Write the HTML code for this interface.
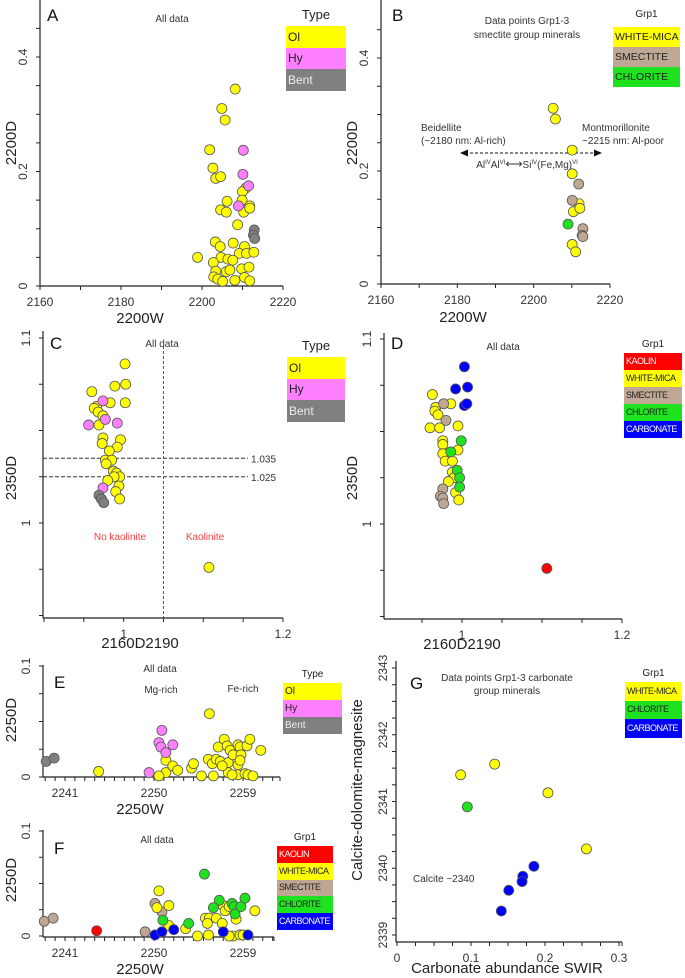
<!DOCTYPE html>
<html><head><meta charset="utf-8">
<style>
html,body{margin:0;padding:0;background:#fff;}
#wrap{position:relative;width:685px;height:978px;overflow:hidden;font-family:"Liberation Sans",sans-serif;}
svg{position:absolute;left:0;top:0;}
.lg{position:absolute;font-family:"Liberation Sans",sans-serif;font-size:11px;line-height:1;}
.lb{position:absolute;display:flex;align-items:center;padding-left:2px;box-sizing:border-box;font-size:11px;white-space:nowrap;overflow:hidden;}
</style></head>
<body>
<div id="wrap">
<svg id="fig" width="685" height="978" viewBox="0 0 685 978"></svg>
</div>
<script>
// ===== Panel A data (2200W vs 2200D, by Type) =====
const aOlX=[2208.2,2204.9,2205.7,2201.9,2202.7,2203.4,2204.6,2210.8,2210,2206.2,2209.9,2204.6,2206,2210.3,2211.8,2211.8,2208.8,2203.3,2204.5,2207.7,2210.5,2209.2,2211,2212.8,2198.9,2204.7,2206.4,2207.6,2202.8,2203.4,2206,2206.9,2209.8,2211.6,2202.9,2203.9,2205.1,2208.1,2210.5,2211.8];
const aOlY=[0.344,0.310,0.290,0.238,0.206,0.188,0.191,0.171,0.165,0.148,0.150,0.133,0.129,0.129,0.140,0.136,0.107,0.077,0.069,0.075,0.069,0.057,0.057,0.059,0.050,0.050,0.047,0.045,0.041,0.026,0.025,0.028,0.030,0.033,0.016,0.012,0.008,0.010,0.015,0.009];
const aHyX=[2210.2,2210.1,2211.5,2209];
const aHyY=[0.237,0.195,0.175,0.140];
const aBentX=[2212.9,2212.7,2213];
const aBentY=[0.098,0.089,0.083];
// ===== Panel B data =====
const bWmX=[2205.1,2205.7,2210.1,2210.1,2210.4,2211.9,2212.1,2210.1,2211];
const bWmY=[0.311,0.292,0.237,0.195,0.128,0.142,0.134,0.070,0.057];
const bSmX=[2211.8,2210.1,2212.9,2212.7,2212.9];
const bSmY=[0.177,0.148,0.098,0.086,0.084];
const bChX=[2209];
const bChY=[0.106];
// ===== Panel C data =====
const cOlX=[1.0017,1.0025,0.989,0.960,0.983,1.002,0.966,0.963,0.968,0.974,0.969,0.974,0.996,0.973,0.992,0.982,0.977,0.985,0.978,0.987,0.991,0.995,0.988,0.980,0.994,0.990,0.995,1.107];
const cOlY=[1.086,1.075,1.074,1.071,1.065,1.065,1.063,1.062,1.060,1.058,1.053,1.046,1.045,1.043,1.041,1.039,1.034,1.034,1.032,1.028,1.027,1.025,1.025,1.023,1.020,1.017,1.013,0.976];
const cHyX=[0.974,0.977,0.956,0.992,0.974];
const cHyY=[1.066,1.056,1.053,1.054,1.019];
const cBentX=[0.969,0.972,0.975];
const cBentY=[1.015,1.013,1.011];
const cThresh=[1.035,1.025];
const cKaolinCut=[1.05];
// ===== Panel D data =====
const dCbX=[1.003,0.992,1.007,1.003,1.006];
const dCbY=[1.085,1.073,1.074,1.064,1.065];
const dWmX=[0.963,0.986,0.967,0.966,0.970,0.960,0.972,0.995,0.976,0.976,0.976,0.995,0.979,0.988,0.988,0.990,0.983,0.992,0.996];
const dWmY=[1.070,1.065,1.063,1.061,1.059,1.052,1.052,1.053,1.045,1.043,1.038,1.040,1.034,1.034,1.028,1.025,1.023,1.017,1.013];
const dSmX=[0.977,0.980,0.976,0.973,0.976,0.977];
const dSmY=[1.065,1.056,1.019,1.015,1.014,1.011];
const dChX=[0.999,0.986,0.994,0.997,0.997];
const dChY=[1.045,1.039,1.029,1.025,1.020];
const dKaX=[1.106];
const dKaY=[0.976];
// ===== Panel E data =====
const eBentX=[2239.1,2239.9];
const eBentY=[0.014,0.017];
const eOlX=[2244.4,2255.6,2255.5,2251.2,2251.2,2250.5,2251.9,2252.4,2253.8,2254,2254.8,2255.9,2256,2256.5,2256.3,2256.7,2257.1,2257.4,2257.7,2257.5,2257.5,2256.9,2258,2258.5,2258.7,2258.8,2259.4,2259.7,2258.5,2258.7,2258.5,2259.2,2259.5,2260,2260.8,2257.9];
const eOlY=[0.005,0.057,0.016,0.015,0.004,0.001,0.010,0.006,0.008,0.012,0.001,0.012,0.001,0.027,0.016,0.014,0.034,0.028,0.024,0.013,0.004,0.010,0.020,0.029,0.027,0.020,0.028,0.034,0.011,0.015,0.002,0.003,0.002,0.001,0.024,0.002];
const eHyX=[2250.8,2250.5,2250.7,2251.2,2251.9,2249.5];
const eHyY=[0.042,0.031,0.027,0.022,0.029,0.004];
// ===== Panel F data =====
const fSmX=[2238.9,2239.8,2249.1,2250.1,2250.8];
const fSmY=[0.014,0.017,0.004,0.031,0.023];
const fKaX=[2244.2];
const fKaY=[0.005];
const fWmX=[2250.5,2250.3,2251.5,2251.5,2253.2,2254.4,2255.2,2255.6,2255.5,2255.4,2256.3,2256.9,2257,2257.2,2257.6,2258.3,2258,2258.7,2259,2260.2,2257.6];
const fWmY=[0.043,0.027,0.029,0.010,0.007,0,0.017,0.017,0.001,0.012,0.017,0.012,0.029,0.024,0.028,0.016,0,0.001,0.001,0.024,0];
const fChX=[2255.1,2250.9,2253.5,2256.6,2256,2257.9,2258.1,2258.2,2258.8,2259.2];
const fChY=[0.059,0.015,0.012,0.034,0.027,0.031,0.028,0.021,0.028,0.036];
const fCbX=[2250.1,2250.8,2252,2257,2259.5];
const fCbY=[0.001,0.004,0.006,0.004,0.001];
// ===== Panel G data =====
const gWmX=[0.086,0.132,0.204,0.256];
const gWmY=[2341.40,2341.56,2341.13,2340.29];
const gChX=[0.095];
const gChY=[2340.92];
const gCbX=[0.185,0.170,0.169,0.151,0.141];
const gCbY=[2340.03,2339.88,2339.80,2339.67,2339.36];
// ===== Tick labels =====
const tickA_X=[2160,2180,2200,2220];
const tickA_Y=[0,0.2,0.4];
const tickC_X=[1,1.2];
const tickC_Y=[1,1.1];
const tickE_X=[2241,2250,2259];
const tickE_Y=[0,0.1];
const tickG_X=[0,0.1,0.2,0.3];
const tickG_Y=[2339,2340,2341,2342,2343];

const C={ol:'#ffff00',hy:'#ff80ff',bent:'#808080',wm:'#ffff00',sm:'#bfa793',ch:'#1ee21e',cb:'#0000ff',ka:'#ff0000'};
const NS='http://www.w3.org/2000/svg';
const svg=document.getElementById('fig');
function mk(tag,attrs,parent){const e=document.createElementNS(NS,tag);for(const k in attrs)e.setAttribute(k,attrs[k]);(parent||svg).appendChild(e);return e;}
function lin(d0,d1,p0,p1){return v=>p0+(v-d0)/(d1-d0)*(p1-p0);}
function fmt(v){return String(+v.toFixed(3));}

function axes(id,P){
  const g=mk('g',{});
  
  
  mk('line',{x1:P.L,y1:P.B,x2:P.R,y2:P.B,stroke:'#222','stroke-width':1.2},g);
  mk('line',{x1:P.L,y1:P.T,x2:P.L,y2:P.B,stroke:'#222','stroke-width':1.2},g);
  for(let v=P.xt[0];v<=P.xt[1]+1e-9;v+=P.xt[2]){const x=P.sx(v);if(x<P.L-0.5||x>P.R+0.5)continue;mk('line',{x1:x,y1:P.B,x2:x,y2:P.B+4,stroke:'#222','stroke-width':1},g);}
  if(P.R>P.sx(P.xt[1])+1) mk('line',{x1:P.R,y1:P.B,x2:P.R,y2:P.B+4,stroke:'#222'},g);
  for(let v=P.yt[0];v<=P.yt[1]+1e-9;v+=P.yt[2]){const y=P.sy(v);if(y<P.T-0.5||y>P.B+0.5)continue;mk('line',{x1:P.L-4,y1:y,x2:P.L,y2:y,stroke:'#222','stroke-width':1},g);}
  P.xl.forEach(v=>{const t=mk('text',{x:P.sx(v),y:P.B+20,'text-anchor':'middle','font-size':12,fill:'#333'},g);t.textContent=fmt(v);
    
    });
  P.yl.forEach(v=>{const x=P.L-(P.yoff||13),y=P.sy(v);const t=mk('text',{x:x,y:y,'text-anchor':'middle','font-size':12,fill:'#333',transform:`rotate(-90 ${x} ${y})`},g);t.textContent=fmt(v);
    
    });
  const xt=mk('text',{x:P.xtx,y:P.B+P.xty,'text-anchor':'middle','font-size':15,fill:'#222'},g);xt.textContent=P.xtitle;
  
  
  const yx=P.ytx,yy=P.yty;
  const yt=mk('text',{x:yx,y:yy,'text-anchor':'middle','font-size':15,fill:'#222',transform:`rotate(-90 ${yx} ${yy})`},g);yt.textContent=P.ytitle;
  
  
  const lt=mk('text',{x:P.lx,y:P.ly,'font-size':17,fill:'#111'},g);lt.textContent=P.letter;
  
  
}
function series(name,xs,ys,color,P){
  const g=mk('g',{});
  
  
  xs.forEach((v,i)=>{const c=mk('circle',{cx:P.sx(v),cy:P.sy(ys[i]),r:5,fill:color,stroke:'#555','stroke-width':0.8},g);
    
    });
}
function txt(s,x,y,size,color,anchor,name){const t=mk('text',{x:x,y:y,'font-size':size,fill:color||'#333','text-anchor':anchor||'middle'});t.textContent=s;
  
  return t;}
function legend(name,title,x,y,w,items,titleY,h,fs,ls){
  const wrap=document.getElementById('wrap');
  const d=document.createElement('div');d.className='lg';
  
  
  const t=document.createElement('div');t.style.cssText=`position:absolute;left:${x}px;top:${titleY}px;width:${w}px;text-align:center;font-size:${title==='Type'&&h>19?13:10}px;color:#222;`;t.textContent=title;
  
  
  d.appendChild(t);
  items.forEach((it,i)=>{const b=document.createElement('div');b.className='lb';
    b.style.cssText+=`left:${x}px;top:${y+i*h}px;width:${w}px;height:${h}px;background:${it[1]};color:${it[2]};font-size:${fs}px;letter-spacing:${ls}px;`;
    b.textContent=it[0];
    
    
    d.appendChild(b);});
  wrap.appendChild(d);
}

// ---- Panel A ----
const PA={L:40,R:283,T:0,B:286,sx:lin(2160,2220,40,283),sy:lin(0,0.4,286,57),xt:[2160,2220,10],yt:[0,0.45,0.05],xl:tickA_X,yl:tickA_Y,xtitle:'2200W',xtx:140,xty:37,ytitle:'2200D',ytx:16,yty:143,letter:'A',lx:47,ly:21};
axes('panel-a',PA);
txt('All data',172,22,10,'#333','middle','panel-a-subtitle');
series('panel-a-ol',aOlX,aOlY,C.ol,PA);
series('panel-a-hy',aHyX,aHyY,C.hy,PA);
series('panel-a-bent',aBentX,aBentY,C.bent,PA);
legend('panel-a-legend','Type',286,26,60,[['Ol',C.ol,'#222'],['Hy',C.hy,'#222'],['Bent',C.bent,'#eee']],8,21.5,12,0);

// ---- Panel B ----
const PB={L:381,R:610,T:0,B:284,sx:lin(2160,2220,381,610),sy:lin(0,0.4,284,58),xt:[2160,2220,10],yt:[0,0.45,0.05],xl:tickA_X,yl:tickA_Y,xtitle:'2200W',xtx:463,xty:38,ytitle:'2200D',ytx:357,yty:143,letter:'B',lx:392,ly:21};
axes('panel-b',PB);
txt('Data points  Grp1-3',527,24,10,'#333','middle','panel-b-subtitle-1');
txt('smectite  group  minerals',527,38,10,'#333','middle','panel-b-subtitle-2');
txt('Beidellite',421,131,10,'#333','start','beidellite-label');
txt('(~2180  nm:  Al-rich)',421,144,10,'#333','start','beidellite-note');
txt('Montmorillonite',582,131,10,'#333','start','montmorillonite-label');
txt('~2215  nm:  Al-poor',582,144,10,'#333','start','montmorillonite-note');
(function(){const g=mk('g',{});
 
 
 mk('line',{x1:465,y1:153,x2:597,y2:153,stroke:'#111','stroke-width':1,'stroke-dasharray':'3,2'},g);
 mk('path',{d:'M460 153 L468 149.5 L468 156.5 Z',fill:'#111'},g);
 mk('path',{d:'M602 153 L594 149.5 L594 156.5 Z',fill:'#111'},g);})();
(function(){const t=mk('text',{x:527,y:168,'font-size':10,fill:'#333','text-anchor':'middle'});
 
 
 t.innerHTML='Al<tspan font-size="6" dy="-4">IV</tspan><tspan dy="4">Al</tspan><tspan font-size="6" dy="-4">VI</tspan><tspan dy="4" font-size="12">⟷</tspan><tspan>Si</tspan><tspan font-size="6" dy="-4">IV</tspan><tspan dy="4">(Fe,Mg)</tspan><tspan font-size="6" dy="-4">VI</tspan>';})();
series('panel-b-white-mica',bWmX,bWmY,C.wm,PB);
series('panel-b-smectite',bSmX,bSmY,C.sm,PB);
series('panel-b-chlorite',bChX,bChY,C.ch,PB);
legend('panel-b-legend','Grp1',613,27,67,[['WHITE-MICA',C.wm,'#222'],['SMECTITE',C.sm,'#222'],['CHLORITE',C.ch,'#222']],10,20,10.5,0);

// ---- Panel C ----
const PC={L:43,R:283,T:331,B:618,sx:lin(0.9,1.2,44,283),sy:lin(1,1.1,523,338),xt:[0.9,1.2,0.05],yt:[0.95,1.1,0.025],xl:tickC_X,yl:tickC_Y,xtitle:'2160D2190',xtx:140,xty:30,ytitle:'2350D',ytx:16,yty:478,letter:'C',lx:50,ly:349};
axes('panel-c',PC);
txt('All data',162,347,10,'#333','middle','panel-c-subtitle');
cThresh.forEach(v=>{const l=mk('line',{x1:PC.L,y1:PC.sy(v),x2:248,y2:PC.sy(v),stroke:'#333','stroke-width':1,'stroke-dasharray':'4,2'});
 
 
 txt(String(v),251,PC.sy(v)+4,10,'#333','start','threshold-label');});
cKaolinCut.forEach(v=>{const l=mk('line',{x1:PC.sx(v),y1:PC.T+10,x2:PC.sx(v),y2:PC.B,stroke:'#e02020','stroke-width':1,'stroke-dasharray':'3,2'});
 
 });
txt('No kaolinite',120,540,10,'#ff4040','middle','no-kaolinite-label');
txt('Kaolinite',205,540,10,'#ff4040','middle','kaolinite-label');
series('panel-c-ol',cOlX,cOlY,C.ol,PC);
series('panel-c-hy',cHyX,cHyY,C.hy,PC);
series('panel-c-bent',cBentX,cBentY,C.bent,PC);
legend('panel-c-legend','Type',287,357,58,[['Ol',C.ol,'#222'],['Hy',C.hy,'#222'],['Bent',C.bent,'#eee']],339,21.5,12,0);

// ---- Panel D ----
const PD={L:384,R:622,T:333,B:619,sx:lin(1,1.2,462,622),sy:lin(1,1.1,524,339),xt:[0.9,1.2,0.05],yt:[0.95,1.1,0.025],xl:tickC_X,yl:tickC_Y,xtitle:'2160D2190',xtx:462,xty:30,ytitle:'2350D',ytx:357,yty:478,letter:'D',lx:391,ly:349};
axes('panel-d',PD);
txt('All data',503,350,10,'#333','middle','panel-d-subtitle');
series('panel-d-carbonate',dCbX,dCbY,C.cb,PD);
series('panel-d-white-mica',dWmX,dWmY,C.wm,PD);
series('panel-d-smectite',dSmX,dSmY,C.sm,PD);
series('panel-d-chlorite',dChX,dChY,C.ch,PD);
series('panel-d-kaolin',dKaX,dKaY,C.ka,PD);
legend('panel-d-legend','Grp1',624,353,58,[['KAOLIN',C.ka,'#fff'],['WHITE-MICA',C.wm,'#222'],['SMECTITE',C.sm,'#222'],['CHLORITE',C.ch,'#222'],['CARBONATE',C.cb,'#fff']],340,17,9,-0.5);

// ---- Panel E ----
const PE={L:43,R:280,T:665,B:777,sx:lin(2241,2259,65,243),sy:lin(0,0.1,777,666),xt:[2239,2262,1],yt:[0,0.1,0.025],xl:tickE_X,yl:tickE_Y,xtitle:'2250W',xtx:140,xty:37,ytitle:'2250D',ytx:16,yty:720,letter:'E',lx:54,ly:688};
axes('panel-e',PE);
txt('All data',160,672,10,'#333','middle','panel-e-subtitle');
txt('Mg-rich',161,693,10,'#333','middle','mg-rich-label');
txt('Fe-rich',243,692,10,'#333','middle','fe-rich-label');
series('panel-e-bent',eBentX,eBentY,C.bent,PE);
series('panel-e-ol',eOlX,eOlY,C.ol,PE);
series('panel-e-hy',eHyX,eHyY,C.hy,PE);
legend('panel-e-legend','Type',283,683,59,[['Ol',C.ol,'#222'],['Hy',C.hy,'#222'],['Bent',C.bent,'#eee']],670,17,10,0);

// ---- Panel F ----
const PF={L:43,R:274,T:830,B:937,sx:lin(2241,2259,65,243),sy:lin(0,0.1,936,831),xt:[2239,2262,1],yt:[0,0.1,0.025],xl:tickE_X,yl:tickE_Y,xtitle:'2250W',xtx:140,xty:37,ytitle:'2250D',ytx:16,yty:880,letter:'F',lx:54,ly:854};
axes('panel-f',PF);
txt('All data',157,843,10,'#333','middle','panel-f-subtitle');
series('panel-f-smectite',fSmX,fSmY,C.sm,PF);
series('panel-f-kaolin',fKaX,fKaY,C.ka,PF);
series('panel-f-white-mica',fWmX,fWmY,C.wm,PF);
series('panel-f-chlorite',fChX,fChY,C.ch,PF);
series('panel-f-carbonate',fCbX,fCbY,C.cb,PF);
legend('panel-f-legend','Grp1',277,846,56,[['KAOLIN',C.ka,'#fff'],['WHITE-MICA',C.wm,'#222'],['SMECTITE',C.sm,'#222'],['CHLORITE',C.ch,'#222'],['CARBONATE',C.cb,'#fff']],833,16.8,9,-0.5);

// ---- Panel G ----
const PG={L:396,R:622,T:661,B:942,sx:lin(0,0.3,397,619),sy:lin(2339,2343,935,668),xt:[0,0.3,0.025],yt:[2339,2343,0.25],xl:tickG_X,yl:tickG_Y,yoff:9,xtitle:'Carbonate abundance SWIR',xtx:507,xty:31,ytitle:'Calcite-dolomite-magnesite',ytx:362,yty:790,letter:'G',lx:410,ly:689};
axes('panel-g',PG);
txt('Data points  Grp1-3  carbonate',507,681,10,'#333','middle','panel-g-subtitle-1');
txt('group  minerals',507,694,10,'#333','middle','panel-g-subtitle-2');
txt('Calcite  ~2340',413,882,10,'#333','start','calcite-label');
series('panel-g-white-mica',gWmX,gWmY,C.wm,PG);
series('panel-g-chlorite',gChX,gChY,C.ch,PG);
series('panel-g-carbonate',gCbX,gCbY,C.cb,PG);
legend('panel-g-legend','Grp1',625,682,57,[['WHITE-MICA',C.wm,'#222'],['CHLORITE',C.ch,'#222'],['CARBONATE',C.cb,'#fff']],669,18.5,9,-0.5);
</script>
</body></html>
